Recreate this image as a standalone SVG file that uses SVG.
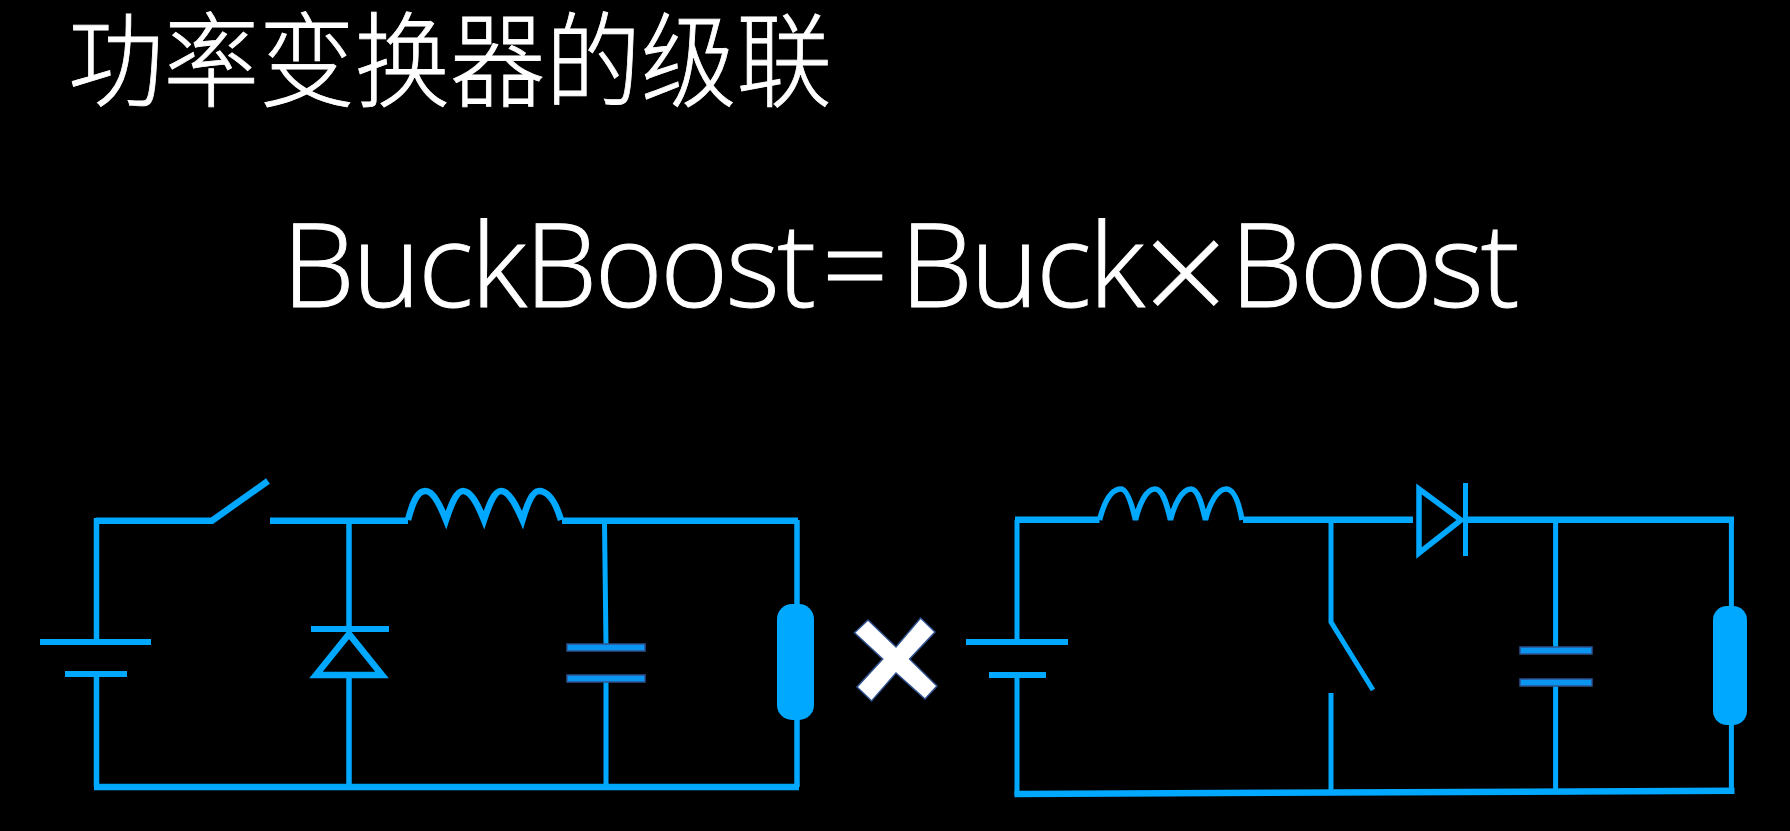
<svg xmlns="http://www.w3.org/2000/svg" width="1790" height="831" viewBox="0 0 1790 831">
<style>
.w{fill:none;stroke:#00a8ff;stroke-linecap:butt;stroke-linejoin:miter}
.t6{stroke-width:6.5}.t5{stroke-width:5.5}.t4{stroke-width:5}
.f{fill:#00a8ff}
.cap{fill:#0a96f0;stroke:#2f528f;stroke-width:1.5}
.tx{fill:#fff}
</style>
<rect width="1790" height="831" fill="#000"/>
<text id="title" class="tx" transform="translate(68 99) scale(1 1.08)" font-size="95.5" font-weight="300" stroke="#fff" stroke-width="0.8" font-family="'Noto Sans CJK SC','Noto Sans',sans-serif">功率变换器的级联</text>
<text id="formula" class="tx" y="307" font-size="116" font-weight="300" stroke="#fff" stroke-width="1" font-family="'Open Sans','Noto Sans CJK SC',sans-serif"><tspan x="282" letter-spacing="-2.5">BuckBoost</tspan><tspan x="822">=</tspan><tspan x="900" letter-spacing="-2.5">Buck</tspan><tspan x="1143" dy="19" font-size="150" stroke-width="0.6">×</tspan><tspan x="1230" dy="-19" letter-spacing="-3">Boost</tspan></text>
<g id="connectors">
<path class="w t6" d="M96 520.7H212L268 481"/>
<path class="w t6" d="M270 520.7H408M562 520.7H798"/>
<path class="w t5" d="M96.5 518V640M96.5 675V787"/>
<path class="w t5" d="M349 520V628M349 677V785"/>
<path class="w t4" d="M604.5 522L606 645M606 680V785"/>
<path class="w t5" d="M797 520V606M797 718V787"/>
<path class="w t6" d="M94 787H799"/>
<path class="w t6" d="M1015 519.7H1099.5M1243 519.7H1413M1467 519.7H1734"/>
<path class="w t4" d="M1017 520V640M1017 676V795"/>
<path class="w t4" d="M1331 521V622L1373 690M1331 693V790"/>
<path class="w t4" d="M1555.6 522V648M1555.6 684V789"/>
<path class="w t4" d="M1731.4 520V608M1731.4 723V791"/>
<path class="w t6" d="M1014.5 794L1734.5 790.7"/>
</g>
<g id="buck-battery"><rect class="f" x="40" y="639" width="111" height="6"/><rect class="f" x="65" y="671" width="62" height="6"/></g>
<g id="buck-diode"><rect class="f" x="311" y="626" width="78" height="6"/><path class="w t6" d="M349 634L316 675H382Z"/></g>
<g id="buck-inductor"><path class="w t6" d="M408 520C414 497 419 491 425.6 491C433 491 440 505 446 520C451 505 456 491 463 491C471 491 478 505 484 520C489 505 494 491 501 491C509 491 516 505 522.5 520C527 505 532 491 539 491C548 491 555 500 561 520"/></g>
<g id="buck-capacitor"><rect class="cap" x="567" y="644" width="78" height="7"/><rect class="cap" x="567" y="675" width="78" height="7"/></g>
<g id="buck-load"><rect class="f" x="777" y="604" width="37" height="116" rx="15" ry="15"/></g>
<g id="multiply"><path d="M868 620L896 647L920.6 618L935 632L909.6 659L937 686L925 699L896 673L871.6 701L857 687L882.7 659L854.5 632.7Z" fill="#fff" stroke="#2f528f" stroke-width="1.5"/></g>
<g id="boost-battery"><rect class="f" x="966" y="639" width="102" height="6"/><rect class="f" x="989" y="672" width="57" height="6"/></g>
<g id="boost-inductor"><path class="w t5" d="M1099.5 520C1105 499 1112 489 1121 489C1127 489 1132 505 1135.5 520C1139 505 1146 489 1155 489C1163 489 1167 505 1170.5 520C1174 505 1182 489 1191 489C1198 489 1202 505 1205.5 520C1209 505 1217 489 1226 489C1234 489 1239 503 1242 520"/></g>
<g id="boost-diode"><path class="w t5" d="M1419 489V553L1461 520Z"/><rect class="f" x="1463" y="483" width="5" height="73"/></g>
<g id="boost-capacitor"><rect class="cap" x="1520" y="647" width="72" height="7"/><rect class="cap" x="1520" y="679" width="72" height="7"/></g>
<g id="boost-load"><rect class="f" x="1713" y="606" width="34" height="119" rx="14" ry="14"/></g>
</svg>
